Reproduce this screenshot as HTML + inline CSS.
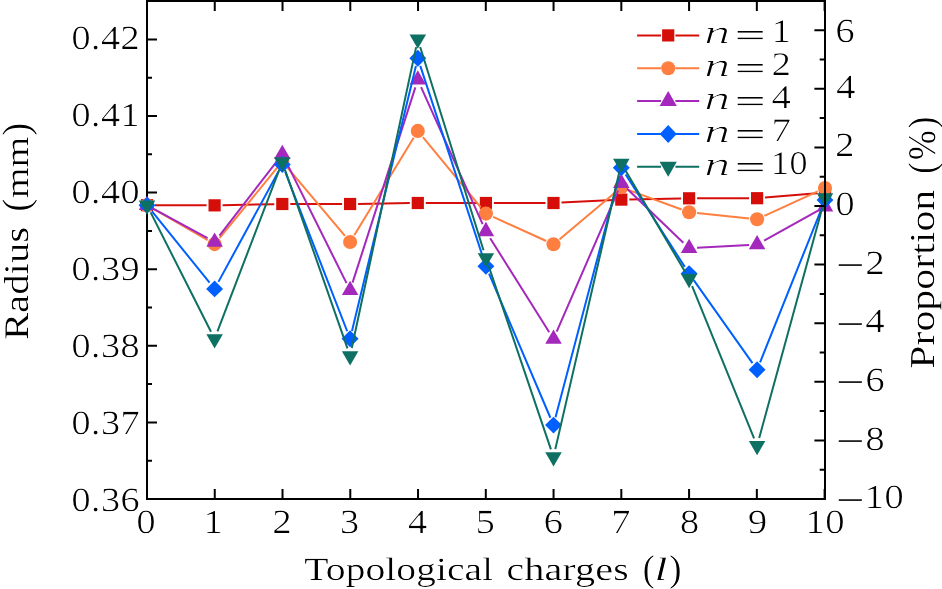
<!DOCTYPE html>
<html><head><meta charset="utf-8"><title>Chart</title>
<style>
html,body{margin:0;padding:0;background:#fff;}
body{width:942px;height:589px;overflow:hidden;}
svg{display:block;}
text{font-family:"Liberation Serif",serif;font-size:32px;text-rendering:geometricPrecision;}
</style></head><body>
<svg width="942" height="589" viewBox="0 0 942 589">
<rect width="942" height="589" fill="#fff"/>
<g><path d="M147.00 1.00 V499.00 H825.00" fill="none" stroke="#000" stroke-width="2" stroke-linecap="square"/>
<path d="M147.00 1.00 H825.00" fill="none" stroke="#000" stroke-width="2" stroke-linecap="square"/>
<path d="M147.00 499.00 v-10 M147.00 1.00 v10 M214.76 499.00 v-10 M214.76 1.00 v10 M282.52 499.00 v-10 M282.52 1.00 v10 M350.28 499.00 v-10 M350.28 1.00 v10 M418.04 499.00 v-10 M418.04 1.00 v10 M485.80 499.00 v-10 M485.80 1.00 v10 M553.56 499.00 v-10 M553.56 1.00 v10 M621.32 499.00 v-10 M621.32 1.00 v10 M689.08 499.00 v-10 M689.08 1.00 v10 M756.84 499.00 v-10 M756.84 1.00 v10 M824.60 499.00 v-10 M824.60 1.00 v10 M147.00 499.00 h10 M147.00 460.70 h5 M147.00 422.40 h10 M147.00 384.10 h5 M147.00 345.80 h10 M147.00 307.50 h5 M147.00 269.20 h10 M147.00 230.90 h5 M147.00 192.60 h10 M147.00 154.30 h5 M147.00 116.00 h10 M147.00 77.70 h5 M147.00 39.40 h10 M147.00 1.10 h5" fill="none" stroke="#000" stroke-width="2"/></g>
<g><path d="M155.00 205.22L206.60 205.33 M222.60 205.19L274.30 204.16 M290.30 204.00L342.10 204.00 M358.10 203.88L409.80 203.12 M425.80 203.00L477.90 203.00 M493.90 203.00L545.50 203.00 M561.49 202.60L613.31 200.00 M629.30 199.45L681.10 198.45 M697.10 198.29L749.10 198.21 M765.07 197.54L817.03 193.26" fill="none" stroke="#D60E0A" stroke-width="2"/>
<rect x="140.90" y="199.10" width="12.20" height="12.20" fill="#D60E0A"/>
<rect x="208.50" y="199.25" width="12.20" height="12.20" fill="#D60E0A"/>
<rect x="276.20" y="197.90" width="12.20" height="12.20" fill="#D60E0A"/>
<rect x="344.00" y="197.90" width="12.20" height="12.20" fill="#D60E0A"/>
<rect x="411.70" y="196.90" width="12.20" height="12.20" fill="#D60E0A"/>
<rect x="479.80" y="196.90" width="12.20" height="12.20" fill="#D60E0A"/>
<rect x="547.40" y="196.90" width="12.20" height="12.20" fill="#D60E0A"/>
<rect x="615.20" y="193.50" width="12.20" height="12.20" fill="#D60E0A"/>
<rect x="683.00" y="192.20" width="12.20" height="12.20" fill="#D60E0A"/>
<rect x="751.00" y="192.10" width="12.20" height="12.20" fill="#D60E0A"/>
<rect x="818.90" y="186.50" width="12.20" height="12.20" fill="#D60E0A"/>
<path d="M153.93 209.19L207.67 240.11 M219.67 237.91L277.23 167.69 M287.45 167.62L344.95 235.88 M354.26 235.17L413.64 137.73 M422.89 137.08L480.81 207.42 M493.18 216.91L546.22 240.99 M559.62 239.15L615.18 192.45 M628.81 190.07L681.59 209.53 M697.06 213.11L749.14 218.44 M764.37 215.91L817.73 191.44" fill="none" stroke="#FF7F40" stroke-width="2"/>
<circle cx="147.00" cy="205.20" r="7.05" fill="#FF7F40"/>
<circle cx="214.60" cy="244.10" r="7.05" fill="#FF7F40"/>
<circle cx="282.30" cy="161.50" r="7.05" fill="#FF7F40"/>
<circle cx="350.10" cy="242.00" r="7.05" fill="#FF7F40"/>
<circle cx="417.80" cy="130.90" r="7.05" fill="#FF7F40"/>
<circle cx="485.90" cy="213.60" r="7.05" fill="#FF7F40"/>
<circle cx="553.50" cy="244.30" r="7.05" fill="#FF7F40"/>
<circle cx="621.30" cy="187.30" r="7.05" fill="#FF7F40"/>
<circle cx="689.10" cy="212.30" r="7.05" fill="#FF7F40"/>
<circle cx="757.10" cy="219.25" r="7.05" fill="#FF7F40"/>
<circle cx="825.00" cy="188.10" r="7.05" fill="#FF7F40"/>
<path d="M154.02 209.03L207.58 238.22 M219.48 235.71L277.42 160.54 M285.87 161.36L346.53 283.14 M352.55 282.68L415.35 87.42 M421.08 87.10L482.62 224.10 M490.16 238.17L549.24 332.23 M556.69 331.66L618.11 190.54 M627.07 188.74L683.33 242.76 M697.09 247.87L749.11 245.03 M764.09 240.70L818.01 210.60" fill="none" stroke="#A428BC" stroke-width="2"/>
<path d="M147.00 195.67L155.25 209.97L138.75 209.97Z" fill="#A428BC"/>
<path d="M214.60 232.52L222.85 246.82L206.35 246.82Z" fill="#A428BC"/>
<path d="M282.30 144.67L290.55 158.97L274.05 158.97Z" fill="#A428BC"/>
<path d="M350.10 280.77L358.35 295.07L341.85 295.07Z" fill="#A428BC"/>
<path d="M417.80 70.27L426.05 84.57L409.55 84.57Z" fill="#A428BC"/>
<path d="M485.90 221.87L494.15 236.17L477.65 236.17Z" fill="#A428BC"/>
<path d="M553.50 329.47L561.75 343.77L545.25 343.77Z" fill="#A428BC"/>
<path d="M621.30 173.67L629.55 187.97L613.05 187.97Z" fill="#A428BC"/>
<path d="M689.10 238.77L697.35 253.07L680.85 253.07Z" fill="#A428BC"/>
<path d="M757.10 235.07L765.35 249.37L748.85 249.37Z" fill="#A428BC"/>
<path d="M825.00 197.17L833.25 211.47L816.75 211.47Z" fill="#A428BC"/>
<path d="M152.03 211.42L209.57 282.68 M218.42 281.87L278.48 171.53 M285.20 171.96L347.20 331.24 M351.98 330.92L415.92 66.08 M420.29 65.90L483.41 258.70 M489.03 273.66L550.37 417.74 M555.54 417.36L619.26 175.54 M625.62 174.54L684.78 266.86 M693.72 280.13L752.48 363.17 M760.07 362.27L822.03 207.53" fill="none" stroke="#005FFF" stroke-width="2"/>
<path d="M147.00 196.75L155.45 205.20L147.00 213.65L138.55 205.20Z" fill="#005FFF"/>
<path d="M214.60 280.45L223.05 288.90L214.60 297.35L206.15 288.90Z" fill="#005FFF"/>
<path d="M282.30 156.05L290.75 164.50L282.30 172.95L273.85 164.50Z" fill="#005FFF"/>
<path d="M350.10 330.25L358.55 338.70L350.10 347.15L341.65 338.70Z" fill="#005FFF"/>
<path d="M417.80 49.85L426.25 58.30L417.80 66.75L409.35 58.30Z" fill="#005FFF"/>
<path d="M485.90 257.85L494.35 266.30L485.90 274.75L477.45 266.30Z" fill="#005FFF"/>
<path d="M553.50 416.65L561.95 425.10L553.50 433.55L545.05 425.10Z" fill="#005FFF"/>
<path d="M621.30 159.35L629.75 167.80L621.30 176.25L612.85 167.80Z" fill="#005FFF"/>
<path d="M689.10 265.15L697.55 273.60L689.10 282.05L680.65 273.60Z" fill="#005FFF"/>
<path d="M757.10 361.25L765.55 369.70L757.10 378.15L748.65 369.70Z" fill="#005FFF"/>
<path d="M825.00 191.65L833.45 200.10L825.00 208.55L816.55 200.10Z" fill="#005FFF"/>
<path d="M150.61 212.34L210.99 331.76 M217.46 331.43L279.44 169.47 M284.94 169.55L347.46 348.35 M351.77 348.08L416.13 47.12 M420.18 46.94L483.52 250.26 M488.47 265.47L550.93 449.33 M555.30 449.11L619.50 171.19 M625.36 170.29L685.04 271.71 M692.12 286.01L754.08 438.29 M759.21 437.98L822.89 205.72" fill="none" stroke="#0E7062" stroke-width="2"/>
<path d="M147.00 214.73L155.25 200.43L138.75 200.43Z" fill="#0E7062"/>
<path d="M214.60 348.43L222.85 334.13L206.35 334.13Z" fill="#0E7062"/>
<path d="M282.30 171.53L290.55 157.23L274.05 157.23Z" fill="#0E7062"/>
<path d="M350.10 365.43L358.35 351.13L341.85 351.13Z" fill="#0E7062"/>
<path d="M417.80 48.83L426.05 34.53L409.55 34.53Z" fill="#0E7062"/>
<path d="M485.90 267.43L494.15 253.13L477.65 253.13Z" fill="#0E7062"/>
<path d="M553.50 466.43L561.75 452.13L545.25 452.13Z" fill="#0E7062"/>
<path d="M621.30 172.93L629.55 158.63L613.05 158.63Z" fill="#0E7062"/>
<path d="M689.10 288.13L697.35 273.83L680.85 273.83Z" fill="#0E7062"/>
<path d="M757.10 455.23L765.35 440.93L748.85 440.93Z" fill="#0E7062"/>
<path d="M825.00 207.53L833.25 193.23L816.75 193.23Z" fill="#0E7062"/></g>
<g><path d="M825.00 1.00 V499.00" fill="none" stroke="#000" stroke-width="2" stroke-linecap="square"/>
<path d="M825.00 499.00 h-10.6 M825.00 469.70 h-5.3 M825.00 440.40 h-10.6 M825.00 411.10 h-5.3 M825.00 381.80 h-10.6 M825.00 352.50 h-5.3 M825.00 323.20 h-10.6 M825.00 293.90 h-5.3 M825.00 264.60 h-10.6 M825.00 235.30 h-5.3 M825.00 206.00 h-10.6 M825.00 176.70 h-5.3 M825.00 147.40 h-10.6 M825.00 118.10 h-5.3 M825.00 88.80 h-10.6 M825.00 59.50 h-5.3 M825.00 30.20 h-10.6 M825.00 0.90 h-5.3" fill="none" stroke="#000" stroke-width="2"/></g>
<g><path d="M637.1 35.40H661.00M675.40 35.40H699.2" fill="none" stroke="#D60E0A" stroke-width="2"/>
<rect x="662.10" y="29.30" width="12.20" height="12.20" fill="#D60E0A"/>
<path d="M637.1 68.25H661.00M675.40 68.25H699.2" fill="none" stroke="#FF7F40" stroke-width="2"/>
<circle cx="668.20" cy="68.25" r="7.05" fill="#FF7F40"/>
<path d="M637.1 101.10H661.00M675.40 101.10H699.2" fill="none" stroke="#A428BC" stroke-width="2"/>
<path d="M668.20 91.10L676.80 106.10L659.60 106.10Z" fill="#A428BC"/>
<path d="M637.1 133.95H661.00M675.40 133.95H699.2" fill="none" stroke="#005FFF" stroke-width="2"/>
<path d="M668.20 124.95L676.70 133.95L668.20 142.95L659.70 133.95Z" fill="#005FFF"/>
<path d="M637.1 166.80H661.00M675.40 166.80H699.2" fill="none" stroke="#0E7062" stroke-width="2"/>
<path d="M668.20 176.80L676.80 161.80L659.60 161.80Z" fill="#0E7062"/></g>
<mask id="mta" maskUnits="userSpaceOnUse" x="0" y="0" width="942" height="589"><use href="#ta" x="1" y="0" fill="#fff"/></mask>
<g mask="url(#mta)"><g id="ta" transform="translate(-0.5 0)">
<mask id="xt0" maskUnits="userSpaceOnUse" x="0" y="0" width="942" height="589"><use href="#t0" x="0.7" fill="#fff"/></mask><g mask="url(#xt0)" transform="translate(-0.35 0)"><text transform="matrix(1.6420 0 0 1.0239 704.21 42.90)" font-style="italic" id="t0">n</text></g>
<text transform="matrix(1.7406 0 0 1.0250 734.42 46.01)" id="t1">=</text>
<text transform="matrix(1.2250 0 0 1.0312 771.40 42.40)" id="t2">1</text>
<mask id="xt3" maskUnits="userSpaceOnUse" x="0" y="0" width="942" height="589"><use href="#t3" x="0.7" fill="#fff"/></mask><g mask="url(#xt3)" transform="translate(-0.35 0)"><text transform="matrix(1.6420 0 0 1.0239 704.21 75.90)" font-style="italic" id="t3">n</text></g>
<text transform="matrix(1.7406 0 0 1.0250 734.42 79.01)" id="t4">=</text>
<text transform="matrix(1.2250 0 0 1.0312 771.40 75.40)" id="t5">2</text>
<mask id="xt6" maskUnits="userSpaceOnUse" x="0" y="0" width="942" height="589"><use href="#t6" x="0.7" fill="#fff"/></mask><g mask="url(#xt6)" transform="translate(-0.35 0)"><text transform="matrix(1.6420 0 0 1.0239 704.21 108.90)" font-style="italic" id="t6">n</text></g>
<text transform="matrix(1.7406 0 0 1.0250 734.42 112.01)" id="t7">=</text>
<text transform="matrix(1.2250 0 0 1.0312 771.40 108.40)" id="t8">4</text>
<mask id="xt9" maskUnits="userSpaceOnUse" x="0" y="0" width="942" height="589"><use href="#t9" x="0.7" fill="#fff"/></mask><g mask="url(#xt9)" transform="translate(-0.35 0)"><text transform="matrix(1.6420 0 0 1.0239 704.21 141.90)" font-style="italic" id="t9">n</text></g>
<text transform="matrix(1.7406 0 0 1.0250 734.42 145.01)" id="t10">=</text>
<text transform="matrix(1.2250 0 0 1.0312 771.40 141.40)" id="t11">7</text>
<mask id="xt12" maskUnits="userSpaceOnUse" x="0" y="0" width="942" height="589"><use href="#t12" x="0.7" fill="#fff"/></mask><g mask="url(#xt12)" transform="translate(-0.35 0)"><text transform="matrix(1.6420 0 0 1.0239 704.21 174.90)" font-style="italic" id="t12">n</text></g>
<text transform="matrix(1.7406 0 0 1.0250 734.42 178.01)" id="t13">=</text>
<text transform="matrix(1.1571 0 0 1.0312 770.66 174.40)" id="t14">10</text>
<text transform="matrix(1.2250 0 0 1.0562 71.23 49.30)" id="t15">0.42</text>
<text transform="matrix(1.2250 0 0 1.0562 71.23 126.27)" id="t16">0.41</text>
<text transform="matrix(1.2250 0 0 1.0562 71.23 203.24)" id="t17">0.40</text>
<text transform="matrix(1.2250 0 0 1.0562 71.23 280.21)" id="t18">0.39</text>
<text transform="matrix(1.2250 0 0 1.0562 71.23 357.18)" id="t19">0.38</text>
<text transform="matrix(1.2250 0 0 1.0562 71.23 434.15)" id="t20">0.37</text>
<text transform="matrix(1.2250 0 0 1.0562 71.23 511.12)" id="t21">0.36</text>
<text transform="matrix(1.2250 0 0 1.0562 136.20 533.10)" id="t22">0</text>
<text transform="matrix(1.2250 0 0 1.0562 203.60 533.10)" id="t23">1</text>
<text transform="matrix(1.2250 0 0 1.0562 272.28 533.10)" id="t24">2</text>
<text transform="matrix(1.2250 0 0 1.0562 339.87 533.10)" id="t25">3</text>
<text transform="matrix(1.2250 0 0 1.0562 407.86 533.10)" id="t26">4</text>
<text transform="matrix(1.2250 0 0 1.0562 475.56 533.10)" id="t27">5</text>
<text transform="matrix(1.2250 0 0 1.0562 543.60 533.10)" id="t28">6</text>
<text transform="matrix(1.2250 0 0 1.0562 611.09 533.10)" id="t29">7</text>
<text transform="matrix(1.2250 0 0 1.0562 679.72 533.10)" id="t30">8</text>
<text transform="matrix(1.2250 0 0 1.0562 747.81 533.10)" id="t31">9</text>
<text transform="matrix(1.2393 0 0 1.0562 805.13 533.10)" id="t32">10</text>
<text transform="matrix(1.2250 0 0 1.0562 835.13 41.60)" id="t33">6</text>
<text transform="matrix(1.2250 0 0 1.0562 836.02 97.51)" id="t34">4</text>
<text transform="matrix(1.2250 0 0 1.0562 835.04 156.18)" id="t35">2</text>
<text transform="matrix(1.2250 0 0 1.0562 835.33 214.85)" id="t36">0</text>
<text transform="matrix(1.6129 0 0 1.1250 835.82 276.99)" id="t37">−</text><text transform="matrix(1.2250 0 0 1.0562 865.30 273.52)" id="t38">2</text>
<text transform="matrix(1.6129 0 0 1.1250 835.82 335.66)" id="t39">−</text><text transform="matrix(1.2250 0 0 1.0562 865.30 332.19)" id="t40">4</text>
<text transform="matrix(1.6129 0 0 1.1250 835.82 394.33)" id="t41">−</text><text transform="matrix(1.2250 0 0 1.0562 865.30 390.86)" id="t42">6</text>
<text transform="matrix(1.6129 0 0 1.1250 835.82 453.00)" id="t43">−</text><text transform="matrix(1.2250 0 0 1.0562 865.30 449.53)" id="t44">8</text>
<text transform="matrix(1.6129 0 0 1.1250 835.82 511.67)" id="t45">−</text><text transform="matrix(1.2321 0 0 1.0562 864.45 508.20)" id="t46">10</text>
</g></g>
<mask id="mtb" maskUnits="userSpaceOnUse" x="0" y="0" width="942" height="589"><use href="#tb" x="0.6" y="0" fill="#fff"/></mask>
<g mask="url(#mtb)"><g id="tb" transform="translate(-0.3 0)">
<text transform="matrix(1.2394 0 0 1.0125 304.31 580.00)" id="t47">Topological</text>
<text transform="matrix(1.2605 0 0 1.0125 506.39 580.00)" id="t48">charges</text>
<text transform="matrix(1.1152 0 0 1.1742 642.79 580.52)" id="t49">(</text><text transform="matrix(1.4043 0 0 1.0125 654.74 580.00)" font-style="italic" id="t50">l</text><text transform="matrix(1.1529 0 0 1.1742 669.30 580.52)" id="t51">)</text>
</g></g>
<mask id="mtc" maskUnits="userSpaceOnUse" x="0" y="0" width="942" height="589"><use href="#tc" x="0" y="0.5" fill="#fff"/></mask>
<g mask="url(#mtc)"><g id="tc" transform="translate(0 -0.25)">
<text transform="matrix(0 -1.2742 1.0813 0 28.30 340.12)" id="t52">Radius</text>
<text transform="matrix(0 -1.2132 1.2121 0 29.36 211.75)" id="t53">(</text><text transform="matrix(0 -1.2377 1.0312 0 28.30 198.19)" id="t54">mm</text><text transform="matrix(0 -1.2257 1.2121 0 29.36 135.77)" id="t55">)</text>
<text transform="matrix(0 -1.3076 1.0938 0 933.60 368.76)" id="t56">Proportion</text>
<text transform="matrix(0 -1.0662 1.2156 0 934.73 173.64)" id="t57">(</text><text transform="matrix(0 -1.1234 1.2223 0 935.01 160.16)" id="t58">%</text><text transform="matrix(0 -1.1165 1.2156 0 934.73 128.46)" id="t59">)</text>
</g></g>
</svg>
</body></html>
